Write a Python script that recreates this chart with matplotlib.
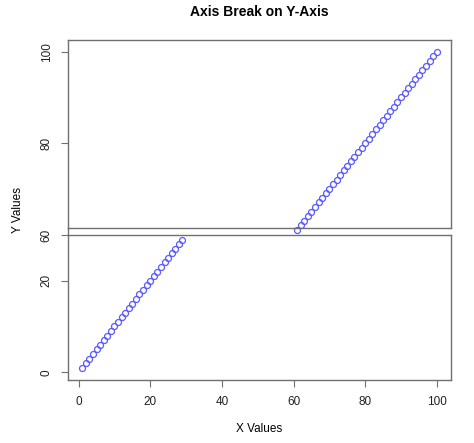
import numpy as np
import matplotlib.pyplot as plt
from matplotlib.lines import Line2D

plt.rcParams['font.family'] = ['Liberation Sans', 'DejaVu Sans']

# data: y = x, values inside the gap (30..60) are left out
x_low = np.arange(1, 30)
y_low = np.arange(1, 30)
x_high = np.arange(61, 101)
y_high = np.arange(61, 101)

low_ticks = [0, 20, 30]
low_labels = ["0", "20", "60"]
high_ticks = [80, 100]
x_ticks = [0, 20, 40, 60, 80, 100]

W, H = 474, 443
fig = plt.figure(figsize=(W / 100, H / 100), dpi=100)

def box(l, t, r, b):
    return [l / W, 1 - b / H, (r - l) / W, (b - t) / H]

left, right = 68, 451
ax_hi = fig.add_axes(box(left, 39.5, right, 228))
ax_lo = fig.add_axes(box(left, 235, right, 380))

col = '#5a5aff'
frame = '#707070'
for ax in (ax_hi, ax_lo):
    ax.set_xlim(-2.96, 103.96)
    for s in ax.spines.values():
        s.set_color(frame)
        s.set_linewidth(1.0)
    ax.tick_params(colors='#222222', labelsize=8.5, length=5, width=0.8,
                   color=frame)
    ax.tick_params(axis='y', pad=6)
    ax.tick_params(axis='x', pad=6.5)

ax_hi.plot(x_high, y_high, 'o', mfc='none', mec=col, ms=4.3, mew=0.9, clip_on=False)
ax_lo.plot(x_low, y_low, 'o', mfc='none', mec=col, ms=4.3, mew=0.9, clip_on=False)

ax_hi.set_ylim(61.4, 102.7)
ax_lo.set_ylim(-1.7, 30)

ax_hi.set_yticks(high_ticks)
ax_hi.set_xticks([])
ax_lo.set_yticks(low_ticks)
ax_lo.set_yticklabels(low_labels)
ax_lo.set_xticks(x_ticks)
for ax in (ax_hi, ax_lo):
    for lab in ax.get_yticklabels():
        lab.set_rotation(90)
        lab.set_va('center')

# join the left spines across the break
fig.add_artist(Line2D([left / W, left / W], [1 - 235 / H, 1 - 228 / H],
                      color=frame, lw=1.0))

fig.text((left + right) / 2 / W, 1 - 12 / H, "Axis Break on Y-Axis",
         ha='center', va='center', fontsize=10, fontweight='bold')
fig.text((left + right) / 2 / W, 1 - 429 / H, "X Values",
         ha='center', va='center', fontsize=8.5)
fig.text(18 / W, 1 - 210 / H, "Y Values", rotation=90,
         ha='center', va='center', fontsize=8.5)

fig.savefig('out.png', dpi=100)
